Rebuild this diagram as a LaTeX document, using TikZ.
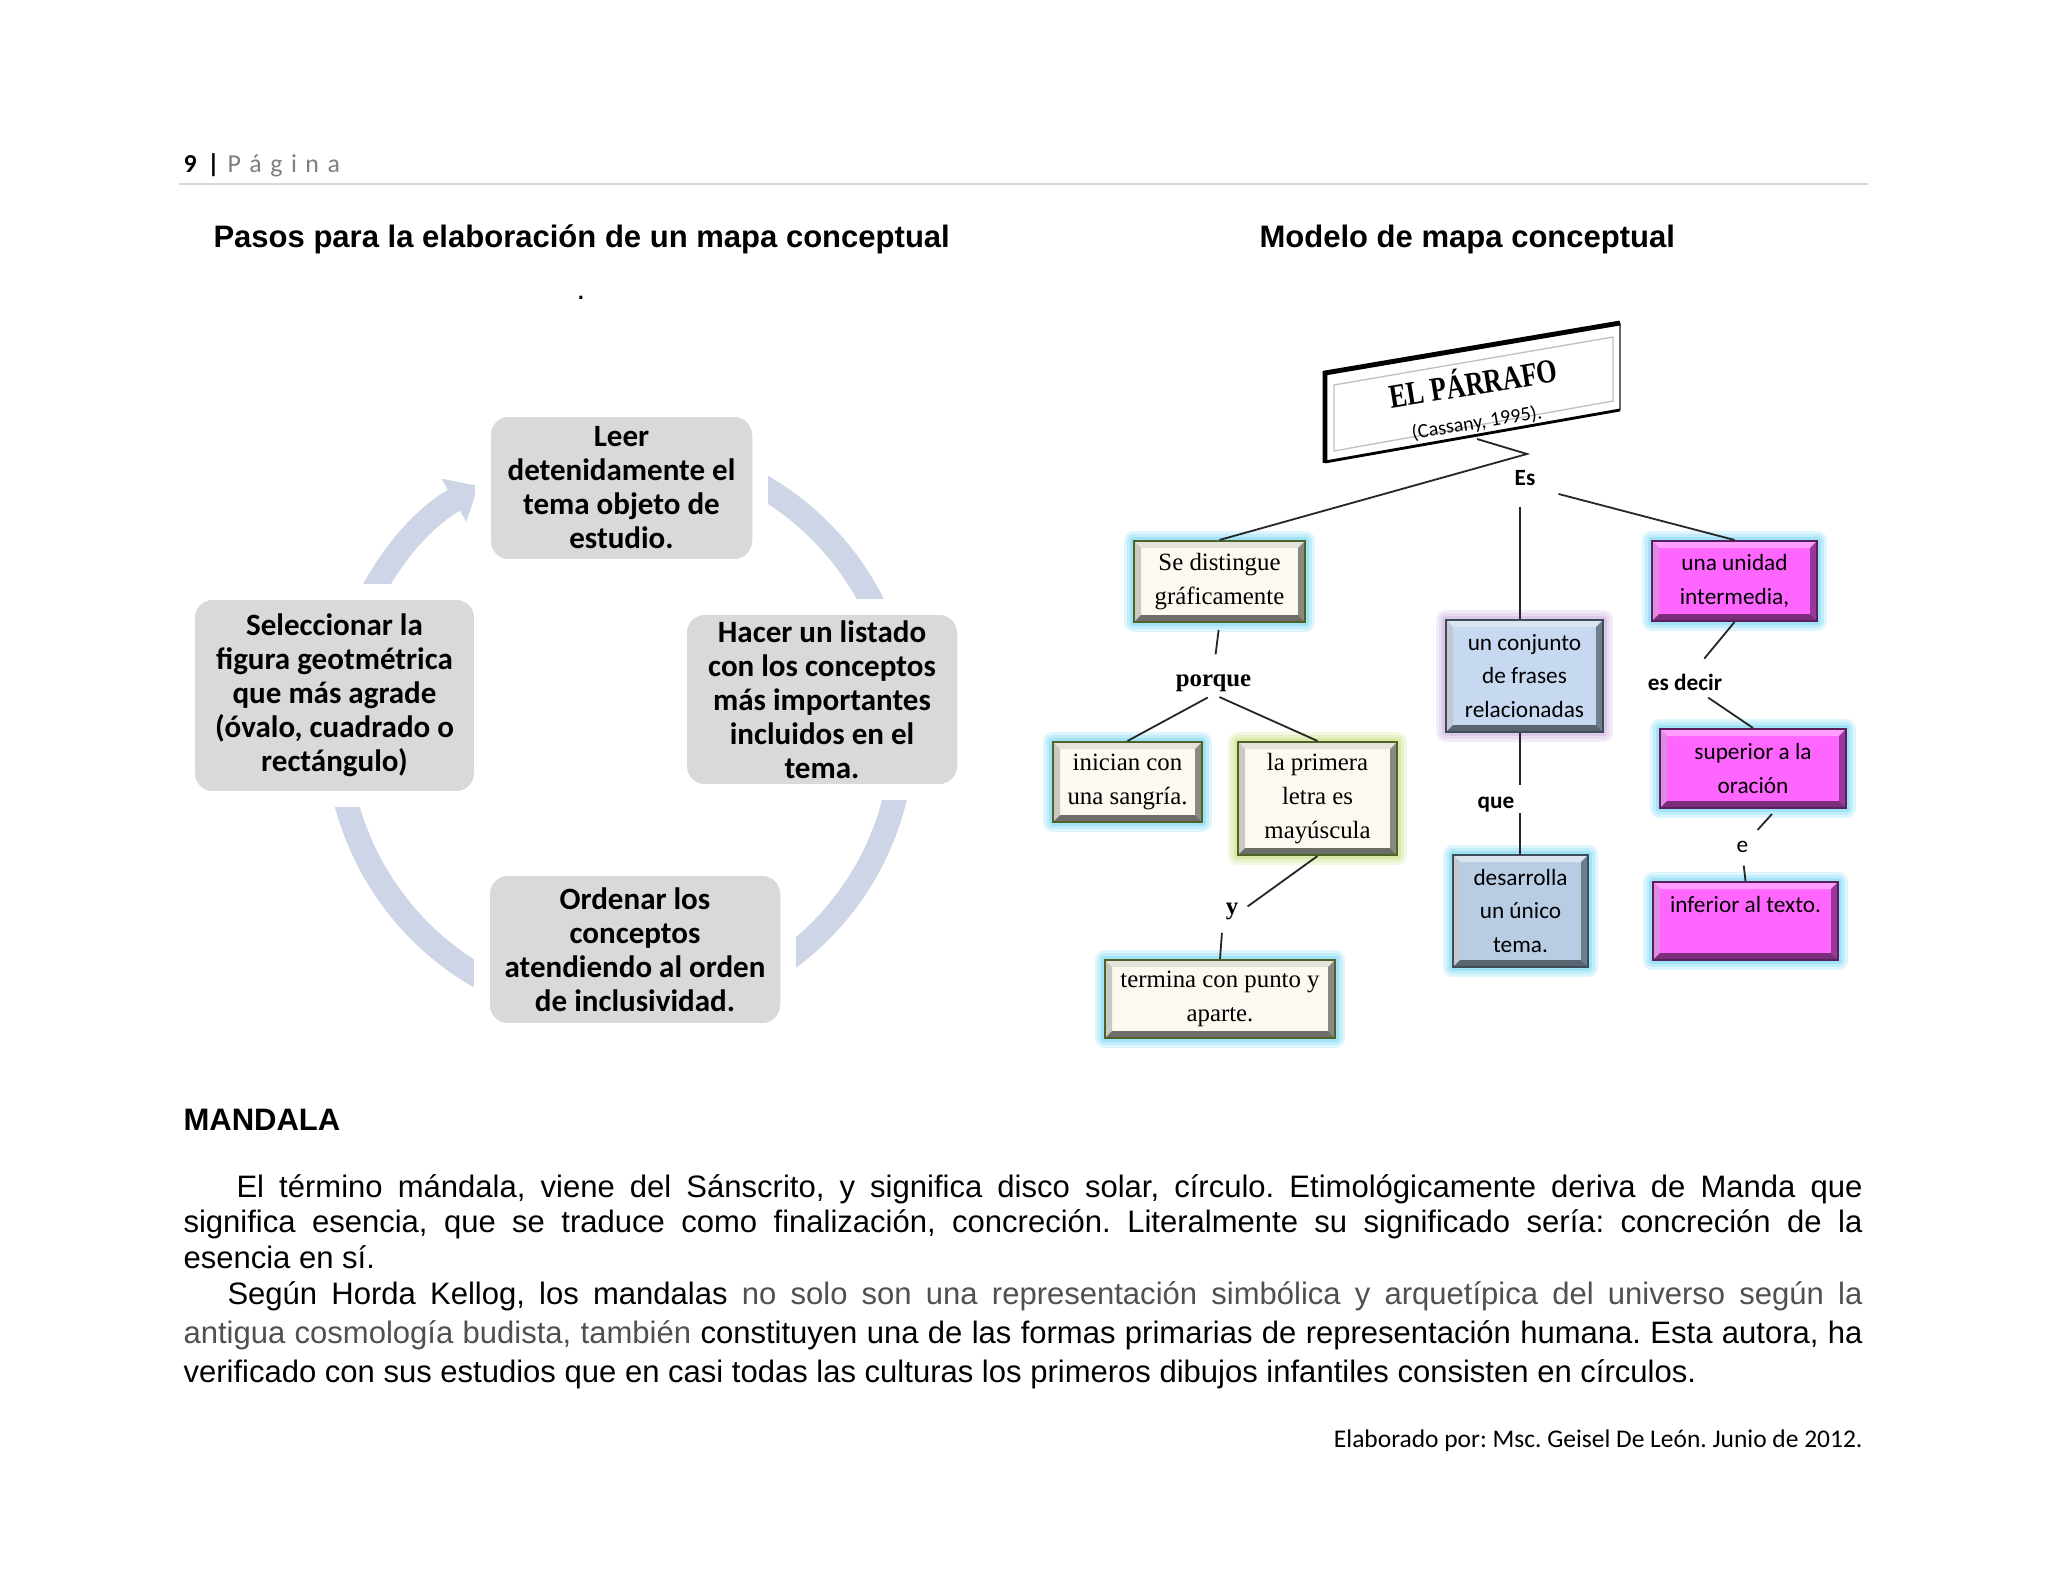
\documentclass[tikz,border=0pt]{standalone}
\usepackage{fontspec}
\setmainfont{Liberation Sans}
\newfontfamily\calfont{Carlito}
\newfontfamily\serfont{Liberation Serif}
\usetikzlibrary{arrows.meta,calc}
\newdimen\pxd \pxd=0.38672pt
\definecolor{boxgray}{HTML}{D9D9D9}
\definecolor{cyc}{HTML}{CDD5E6}
\definecolor{gcyan}{HTML}{8FDDF5}
\definecolor{ggreen}{HTML}{D2E69A}
\definecolor{gpurple}{HTML}{D6BFE6}
\definecolor{ivory}{HTML}{FCF9F0}
\definecolor{olive}{HTML}{4F6228}
\definecolor{ivlight}{HTML}{E4E4DC}
\definecolor{ivdark}{HTML}{8A8A82}
\definecolor{bluea}{HTML}{C6D9F1}
\definecolor{blueb}{HTML}{B8CCE4}
\definecolor{bluebord}{HTML}{3E4C5A}
\definecolor{bluelight}{HTML}{DCE5EF}
\definecolor{bluedark}{HTML}{6F7D8C}
\definecolor{mag}{HTML}{FF66FF}
\definecolor{magbord}{HTML}{5A1F5A}
\definecolor{maglight}{HTML}{FF9EFF}
\definecolor{magdark}{HTML}{97389A}
\definecolor{txtgray}{HTML}{505050}
\definecolor{hdrgray}{HTML}{7F7F7F}
\definecolor{rulegray}{HTML}{D9D9D9}
\definecolor{lkcol}{HTML}{262626}
\newcommand\bevelpic[2]{%
  \path (path picture bounding box.north west) coordinate (pA)
        (path picture bounding box.north east) coordinate (pB)
        (path picture bounding box.south east) coordinate (pC)
        (path picture bounding box.south west) coordinate (pD);
  \fill[#1] (pA) -- (pB) -- ($(pB)+(-7,7)$) -- ($(pA)+(7,7)$) -- cycle;
  \fill[#1!88!black] (pA) -- ($(pA)+(7,7)$) -- ($(pD)+(7,-7)$) -- (pD) -- cycle;
  \fill[#2] (pB) -- (pC) -- ($(pC)+(-7,-7)$) -- ($(pB)+(-7,7)$) -- cycle;
  \fill[#2!80!black] (pD) -- (pC) -- ($(pC)+(-7,-7)$) -- ($(pD)+(7,-7)$) -- cycle;
}
\begin{document}
\frenchspacing
\begin{tikzpicture}[x=0.38672pt, y=-0.38672pt,
  dim/.style 2 args={minimum width=#1*0.38672pt, minimum height=#2*0.38672pt},
  stepbox/.style={fill=boxgray, draw=white, line width=6pt, rounded corners=10pt,
    align=center, inner sep=0pt, text=black,
    font=\calfont\bfseries\fontsize{12}{13.15}\selectfont},
  cbox/.style n args={5}{
    preaction={draw=#5!30, line width=8pt, line join=round},
    preaction={draw=#5!55, line width=5.5pt, line join=round},
    preaction={draw=#5!85, line width=3pt, line join=round},
    fill=#1, draw=#4, line width=0.8pt, inner sep=0pt, align=center,
    path picture={\bevelpic{#2}{#3}}},
  ivbox/.style={cbox={ivory}{ivlight}{ivdark}{olive}{#1},
    font=\serfont\fontsize{9.6}{13.1}\selectfont},
  bluebox/.style 2 args={cbox={#1}{bluelight}{bluedark}{bluebord}{#2},
    font=\calfont\fontsize{9}{13.1}\selectfont},
  magbox/.style={cbox={mag}{maglight}{magdark}{magbord}{gcyan},
    font=\calfont\fontsize{9}{13.1}\selectfont},
  lblsans/.style={inner sep=1pt, font=\calfont\bfseries\fontsize{9}{11}\selectfont},
  lblser/.style={inner sep=1pt, font=\serfont\bfseries\fontsize{9.6}{11}\selectfont},
  lk/.style={draw=lkcol, line width=0.7pt},
  ptext/.style={anchor=base west, inner sep=0pt, font=\fontsize{12}{14}\selectfont}
]
\useasboundingbox (0,0) rectangle (2048,1582);
\fill[white] (0,0) rectangle (2048,1582);

% header
\node[anchor=base west, inner sep=0pt, font=\calfont\fontsize{10}{12}\selectfont] (hdr) at (183,173)
  {{\bfseries 9\hspace{0.42em}|}\hspace{0.3em}\textcolor{hdrgray}{P\hspace{0.33em}á\hspace{0.33em}g\hspace{0.33em}i\hspace{0.33em}n\hspace{0.33em}a}};
\draw[rulegray, line width=0.6pt] (179,184) -- (1868,184);

% titles
\node[anchor=base west, inner sep=0pt, font=\bfseries\fontsize{12}{14}\selectfont] (t1) at (213,248)
  {Pasos para la elaboración de un mapa conceptual};
\node[anchor=base west, inner sep=0pt, font=\bfseries\fontsize{12}{14}\selectfont] (t2) at (1259,248)
  {Modelo de mapa conceptual};
\node[anchor=base west, inner sep=0pt, font=\fontsize{12}{14}\selectfont] (dot) at (576,300) {.};

% cycle
\draw[cyc, line width=9.28pt, -{Triangle[width=18.5pt, length=11pt]}]
  (620,731) ++(-80:283) arc[start angle=-80, end angle=240, radius=283];

\node[stepbox, dim={277}{158}] (leer) at (621.5,488) {Leer\\detenidamente el\\tema objeto de\\estudio.};
\node[stepbox, dim={286}{185}] (hacer) at (822,699.5) {Hacer un listado\\con los conceptos\\más importantes\\incluidos en el\\tema.};
\node[stepbox, dim={306}{163}] (orden) at (635,949.5) {Ordenar los\\conceptos\\atendiendo al orden\\de inclusividad.};
\node[stepbox, dim={295}{207}] (selec) at (334.5,695.5) {Seleccionar la\\figura geotmétrica\\que más agrade\\(óvalo, cuadrado o\\rectángulo)};

% plate
\fill[white] (1325,373) -- (1620,323) -- (1620,410) -- (1325,462) -- cycle;
\draw[black!25, line width=0.5pt] (1334,385) -- (1613,337) -- (1613,401) -- (1334,451) -- cycle;
\draw[black!60, line width=0.6pt] (1620,323) -- (1620,410);
\draw[black, line width=1.1pt] (1620,410) -- (1325,462);
\draw[black, line width=1.9pt, line join=miter] (1325,463) -- (1325,373) -- (1620,323);
\node[rotate=9.3, inner sep=0pt, align=center, font=\fontsize{8}{13.1}\selectfont] (ptitle) at (1476,399)
  {{\serfont\bfseries\fontsize{13}{13.1}\selectfont\scalebox{0.78}[1]{EL PÁRRAFO}}\\
   {\calfont\fontsize{7.8}{13.1}\selectfont\hspace*{-0.3em}(Cassany, 1995).}};
\coordinate (plb) at (1477,439);
\coordinate (esk) at (1527,454);

% concept boxes
\node[ivbox=gcyan, dim={171}{81}] (sd) at (1219.5,581.5) {Se distingue\\gráficamente};
\node[ivbox=gcyan, dim={149}{80}] (ini) at (1127.5,782) {inician con\\una sangría.};
\node[ivbox=ggreen, dim={159}{113}] (lap) at (1317.5,798.5) {la primera\\letra es\\mayúscula};
\node[ivbox=gcyan, dim={230}{78}] (ter) at (1220,999) {termina con punto y\\aparte.};
\node[bluebox={bluea}{gpurple}, dim={157}{112}] (conj) at (1524.5,676) {un conjunto\\de frases\\relacionadas};
\node[bluebox={blueb}{gcyan}, dim={135}{112}] (desa) at (1520.5,911) {desarrolla\\un único\\tema.};
\node[magbox, dim={165}{80}] (una) at (1734.5,581) {una unidad\\intermedia,};
\node[magbox, dim={186}{79}] (sup) at (1753,768.5) {superior a la\\oración};
\node[magbox, dim={185}{78}] (inf) at (1745.5,921) {inferior al texto.\\\mbox{}};

% linking words
\node[lblsans] (es) at (1525,478) {Es};
\node[lblser, anchor=base] (porque) at (1213.5,686) {porque};
\node[lblser, anchor=base] (y) at (1232,914) {y};
\node[lblsans, anchor=base] (que) at (1496,808) {que};
\node[lblsans, anchor=base] (esd) at (1685,690) {es decir};
\node[lblsans, anchor=base, font=\calfont\fontsize{9}{11}\selectfont] (e) at (1742.5,852) {e};
\coordinate (q1) at (1520,785);
\coordinate (q2) at (1520,813);

% connectors
\draw[lk] (plb) -- (esk) -- (sd.north);
\draw[lk, shorten <=7pt] (es.south -| q1) -- (conj.north -| q1);
\draw[lk, shorten <=8pt] (es.south east) -- (una.north);
\draw[lk, shorten <=2.7pt, shorten >=6.5pt] (sd.south) -- (porque.north);
\draw[lk, shorten <=2.5pt] (porque.south) -- (ini.north);
\draw[lk, shorten <=2.5pt] (porque.south) -- (lap.north);
\draw[lk, shorten >=3pt] (lap.south) -- (y.east);
\draw[lk, shorten <=4pt] (y.south west) -- (ter.north);
\draw[lk] (conj.south -| q1) -- (q1);
\draw[lk] (q2) -- (desa.north -| q2);
\draw[lk, shorten >=6pt] (una.south) -- (esd);
\draw[lk, shorten <=3pt] (esd) -- (sup.north);
\draw[lk, shorten >=4pt] ($(sup.south)+(19,5)$) -- (e);
\draw[lk, shorten <=4pt] (e.south) -- (inf.north);

% MANDALA text
\node[anchor=base west, inner sep=0pt, font=\bfseries\fontsize{12}{14}\selectfont] (mand) at (183,1130) {MANDALA};
\node[ptext] (l1) at (236,1197) {\makebox[1626\pxd][s]{El término mándala, viene del Sánscrito, y significa disco solar, círculo. Etimológicamente deriva de Manda que}};
\node[ptext] (l2) at (183,1232) {\makebox[1679\pxd][s]{significa esencia, que se traduce como finalización, concreción. Literalmente su significado sería: concreción de la}};
\node[ptext] (l3) at (183,1268) {esencia en sí.};
\node[ptext] (l4) at (227,1304) {\makebox[1635\pxd][s]{Según Horda Kellog, los mandalas \textcolor{txtgray}{no solo son una representación simbólica y arquetípica del universo según la}}};
\node[ptext] (l5) at (183,1343) {\makebox[1679\pxd][s]{\textcolor{txtgray}{antigua cosmología budista, también} constituyen una de las formas primarias de representación humana. Esta autora, ha}};
\node[ptext] (l6) at (183,1382) {verificado con sus estudios que en casi todas las culturas los primeros dibujos infantiles consisten en círculos.};
\node[anchor=base east, inner sep=0pt, font=\calfont\fontsize{9.85}{12}\selectfont] (elab) at (1863,1447)
  {Elaborado por: Msc. Geisel De León. Junio de 2012.};
\end{tikzpicture}
\end{document}
